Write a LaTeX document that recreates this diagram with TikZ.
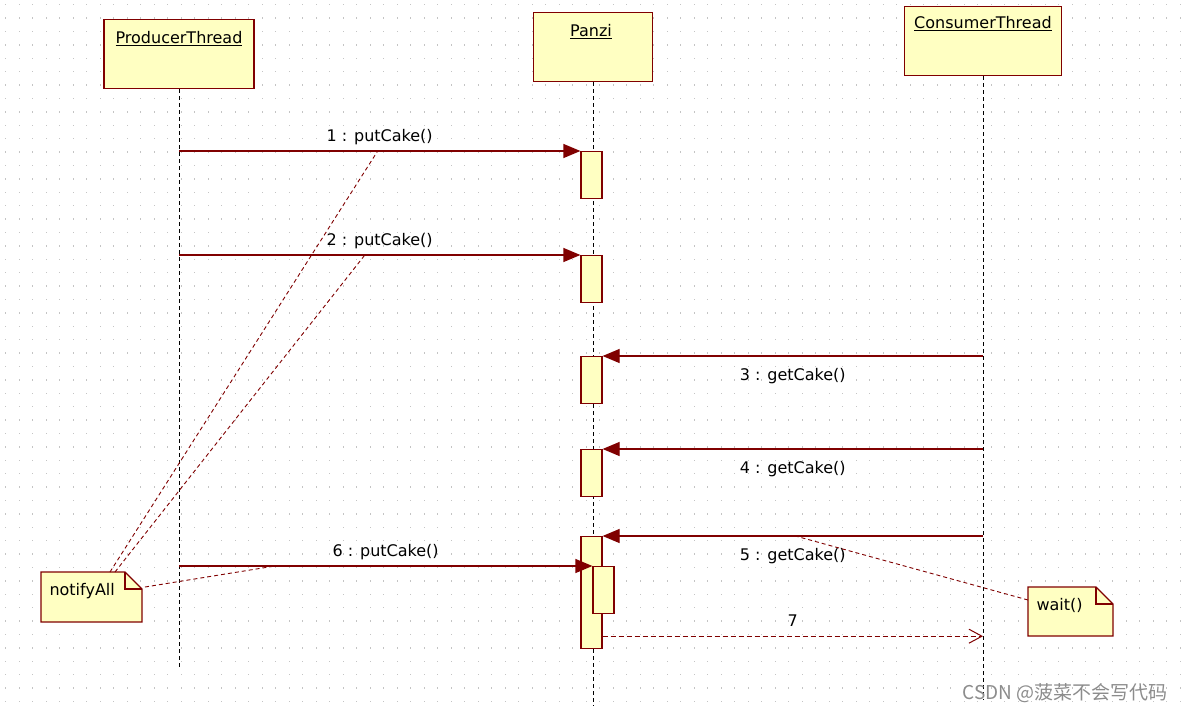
\documentclass[tikz,border=0pt]{standalone}
\usepackage{fontspec}
\setmainfont{DejaVu Sans}
\newfontfamily\cjkfont{Noto Sans CJK SC}
\usetikzlibrary{arrows.meta,calc,positioning}
\definecolor{umlred}{RGB}{128,0,0}
\definecolor{umlfill}{RGB}{255,255,194}
\definecolor{griddot}{RGB}{196,196,196}

\begin{document}
\begin{tikzpicture}[x=1pt,y=-1pt,font=\fontsize{16}{19}\selectfont,
	obj/.style={draw=umlred,fill=umlfill,line width=1.2pt,minimum height=69pt,anchor=north,inner sep=0pt},
	act/.style={draw=umlred,fill=umlfill,line width=1.2pt,minimum width=21pt,anchor=north,inner sep=0pt},
	life/.style={dash pattern=on 4pt off 3pt,line width=0.9pt},
	msg/.style={color=umlred,line width=1.2pt,-{Triangle[length=17pt,width=14pt]}},
	ret/.style={color=umlred,line width=1pt,dash pattern=on 5pt off 3pt,-{Straight Barb[length=13pt,width=14pt]}},
	lbl/.style={text=black,midway},
	note/.style={draw=umlred,fill=umlfill,line width=1.2pt},
	notelink/.style={color=umlred,line width=0.9pt,dash pattern=on 4pt off 3pt}]
	\fill[white] (0,0) rectangle (1184,713);
	\useasboundingbox (0,0) rectangle (1184,713);
	\foreach \i in {0,...,87}
		\foreach \j in {0,...,53}
			\fill[griddot] (5+13.5*\i,4+13.4*\j) rectangle +(1.4,1.4);

	\node[obj,minimum width=150pt] (prod) at (179,19) {};
	\node[obj,minimum width=119pt] (panzi) at (593,12) {};
	\node[obj,minimum width=157pt] (cons) at (983,6) {};
	\node (prodname) at ($(prod.north)+(0,20)$) {\underline{ProducerThread}};
	\node (panziname) at ($(panzi.north)+(-2,20)$) {\underline{Panzi}};
	\node (consname) at ($(cons.north)+(0,18)$) {\underline{ConsumerThread}};

	\coordinate (prodend) at (179,670);
	\coordinate (panziend) at (593,706);
	\coordinate (consend) at (983,700);
	\draw[life] (prod) -- (prodend);
	\draw[life] (panzi) -- (panziend);
	\draw[life] (cons) -- (consend);

	\node[act,minimum height=47pt] (a1) at (591.5,151) {};
	\node[act,minimum height=47pt] (a2) at (591.5,255) {};
	\node[act,minimum height=47pt] (a3) at (591.5,356) {};
	\node[act,minimum height=47pt] (a4) at (591.5,449) {};
	\node[act,minimum height=112pt] (a5) at (591.5,536) {};
	\node[act,minimum height=47pt] (a6) at (603.5,566) {};

	\draw[msg] (prod |- a1.north) -- coordinate[pos=0.495] (put1) node[lbl,anchor=south,inner sep=6pt] (m1) {1 : putCake()} (a1.north west);
	\draw[msg] (prod |- a2.north) -- coordinate[pos=0.463] (put2) node[lbl,anchor=south,inner sep=6pt] (m2) {2 : putCake()} (a2.north west);
	\draw[msg] (cons |- a3.north) -- node[lbl,anchor=north,inner sep=12pt] (m3) {3 : getCake()} (a3.north east);
	\draw[msg] (cons |- a4.north) -- node[lbl,anchor=north,inner sep=12pt] (m4) {4 : getCake()} (a4.north east);
	\draw[msg] (cons |- a5.north) -- coordinate[pos=0.493] (get5) node[lbl,anchor=north,inner sep=12pt] (m5) {5 : getCake()} (a5.north east);
	\draw[msg] (prod |- a6.north) -- coordinate[pos=0.232] (put6) node[lbl,anchor=south,inner sep=6pt] (m6) {6 : putCake()} (a6.north west);
	\draw[ret] ($(a5.south east)+(0,-13)$) coordinate (r7) -- node[lbl,anchor=south,inner sep=9pt] (m7) {7} (cons |- r7);

	\filldraw[note] (41,572) -- (125,572) -- (142,589) -- (142,622) -- (41,622) -- cycle;
	\draw[note,fill=none] (125,572) |- (142,589);
	\node[anchor=west] (nall) at (46,591) {notifyAll};
	\coordinate (nallA) at (110,572);
	\coordinate (nallB) at (115,572);
	\coordinate (nallC) at (145,587);
	\draw[notelink] (nallA) -- (put1);
	\draw[notelink] (nallB) -- (put2);
	\draw[notelink] (nallC) -- (put6);

	\filldraw[note] (1028,587) -- (1096,587) -- (1113,604) -- (1113,636) -- (1028,636) -- cycle;
	\draw[note,fill=none] (1096,587) |- (1113,604);
	\node[anchor=west] (wt) at (1033,605) {wait()};
	\coordinate (wtA) at (1028,600);
	\draw[notelink] (wtA) -- (get5);

	\node[anchor=east,text=black!45,font=\cjkfont\fontsize{19}{22}\selectfont] (mark) at (1171,693) {CSDN @菠菜不会写代码};
\end{tikzpicture}
\end{document}
